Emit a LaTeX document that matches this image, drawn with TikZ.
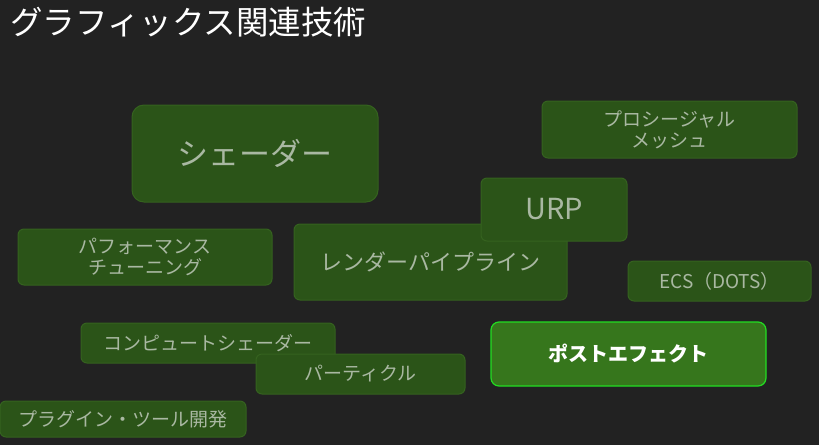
\documentclass[tikz,border=0pt]{standalone}
\usepackage{fontspec}
\setmainfont{Noto Sans CJK JP}
\definecolor{bg}{HTML}{222222}
\definecolor{boxfill}{HTML}{2B5418}
\definecolor{boxline}{HTML}{35621F}
\definecolor{boxtext}{HTML}{A9B8A2}
\definecolor{hifill}{HTML}{36761C}
\definecolor{hiline}{HTML}{22DD22}
\tikzset{
  tbox/.style={draw=boxline, line width=1pt, fill=boxfill, rounded corners=6pt, text=boxtext, align=center, inner sep=0pt, font=\fontsize{19}{21}\selectfont},
  hbox/.style={draw=hiline, line width=1.2pt, fill=hifill, rounded corners=8pt, text=white, align=center, inner sep=0pt, font=\fontsize{20}{22}\selectfont\bfseries},
}
\begin{document}
\begin{tikzpicture}[x=1pt,y=-1pt]
\fill[bg] (0,0) rectangle (819,445);
\useasboundingbox (0,0) rectangle (819,445);
\node[anchor=west, text=white, font=\fontsize{32.5}{35}\selectfont, inner sep=0pt] (title) at (10,22) {グラフィックス関連技術};
\node[tbox, minimum width=246, minimum height=97, rounded corners=12pt, font=\fontsize{31}{33}\selectfont] (shader) at (255,153.5) {シェーダー};
\node[tbox, minimum width=255, minimum height=57] (proc) at (669.5,129.5) {プロシージャル\\メッシュ};
\node[tbox, minimum width=273, minimum height=76, font=\fontsize{22}{24}\selectfont] (rp) at (430.5,262) {レンダーパイプライン};
\node[tbox, minimum width=146, minimum height=63, font=\fontsize{29}{31}\selectfont] (urp) at (554,209.5) {URP};
\node[tbox, minimum width=254, minimum height=56] (perf) at (145,257) {パフォーマンス\\チューニング};
\node[tbox, minimum width=183, minimum height=40] (ecs) at (719.5,281) {ECS（DOTS）};
\node[tbox, minimum width=254, minimum height=40] (cs) at (208,343) {コンピュートシェーダー};
\node[tbox, minimum width=209, minimum height=40] (part) at (360.5,374) {パーティクル};
\node[hbox, minimum width=275, minimum height=64] (post) at (628.5,354) {ポストエフェクト};
\node[tbox, minimum width=246, minimum height=36] (plug) at (123,419) {プラグイン・ツール開発};
\end{tikzpicture}
\end{document}
